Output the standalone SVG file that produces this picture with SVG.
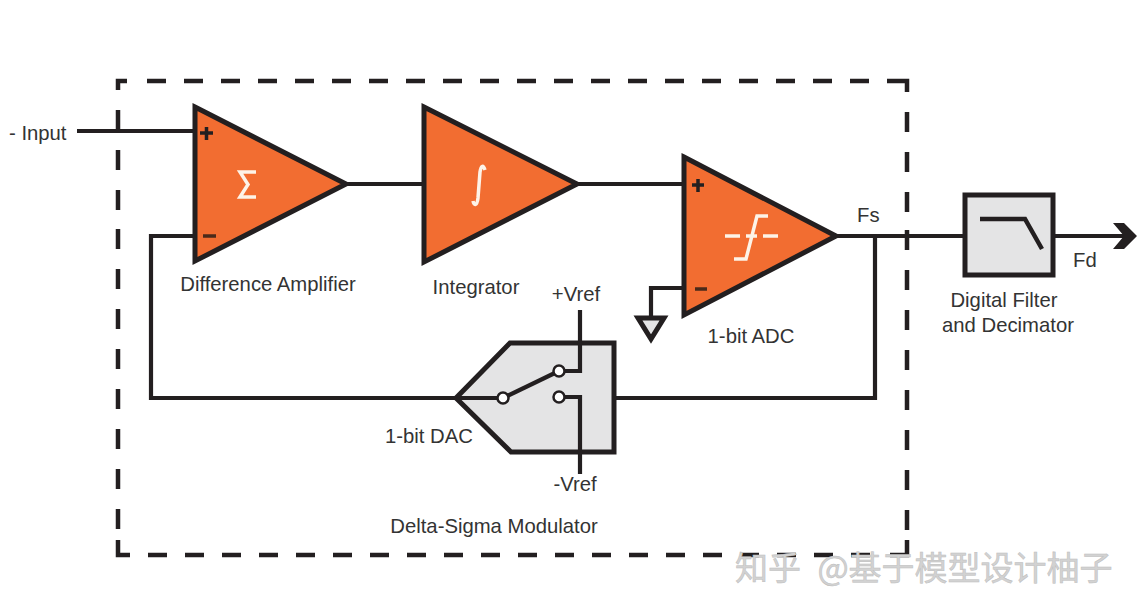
<svg xmlns="http://www.w3.org/2000/svg" width="1140" height="613" viewBox="0 0 1140 613">
<style>
.l{fill:none;stroke:#231f20;stroke-width:4.2;stroke-linejoin:miter}
.amp{fill:#f26d31;stroke:#231f20;stroke-width:5;stroke-linejoin:miter}
.gray{fill:#e4e4e5;stroke:#231f20;stroke-width:5}
.w{fill:none;stroke:#fdf3e8;stroke-width:3.5}
.s{fill:none;stroke:#231f20;stroke-width:3.5}
.t{font-family:"Liberation Sans",Arial,sans-serif;font-size:20.300px;fill:#333}
.m{text-anchor:middle}
.pin{fill:none;stroke:#231f20;stroke-width:3.5}
.minus{fill:none;stroke:#4a2a1a;stroke-width:3.5}
.c{fill:#fff;stroke:#231f20;stroke-width:2.500}
</style>
<rect width="1140" height="613" fill="#fff"/>
<g id="boundary" fill="none" stroke="#231f20" stroke-width="4.5">
<path d="M118 90V81H127M147 81H166M184 81H203M221 81H240M258 81H277M295 81H314M332 81H351M369 81H388M406 81H425M443 81H462M480 81H499M517 81H536M554 81H573M591 81H610M628 81H647M665 81H684M702 81H721M739 81H758M776 81H795M813 81H832M850 81H869M887 81H907V92"/>
<path d="M907 112V132M907 152V172M907 192V212M907 230V250M907 270V290M907 310V330M907 350V370M907 390V410M907 430V450M907 470V490M907 510V530M907 540V555H890M870 555H851M833 555H814M796 555H777M759 555H740M722 555H703M685 555H666M648 555H629M611 555H592M574 555H555M537 555H518M500 555H481M463 555H444M426 555H407M389 555H370M352 555H333M315 555H296M278 555H259M241 555H222M204 555H185M167 555H148M130 555H118V540"/>
<path d="M118 110V130M118 150V170M118 190V210M118 229V249M118 269V289M118 309V329M118 349V369M118 389V409M118 429V449M118 469V489M118 509V529"/>
</g>
<g id="connectors">
<path class="l" d="M77 131H195"/>
<path class="l" d="M195 236H151V398H456"/>
<path class="l" d="M346 184H424"/>
<path class="l" d="M577 184H684"/>
<path class="l" d="M684 288H651V318"/>
<path class="l" d="M835 236H965"/>
<path class="l" d="M875 236V398H614"/>
<path class="l" d="M1052 236H1130"/>
<path d="M1113 223H1124L1137 236L1124 249H1113L1124 236Z" fill="#231f20"/>
</g>
<g id="difference-amplifier">
<path class="amp" d="M195 107L346 184L195 261Z"/>
<path class="pin" d="M200 133H213M206.500 127V140"/>
<path class="minus" d="M203 236H216"/>
<path class="w" d="M256 172H240L248 184.500L240 197H256"/>
<text class="t m" x="268" y="291">Difference Amplifier</text>
</g>
<g id="integrator">
<path class="amp" d="M424 107L577 184L424 262Z"/>
<path class="w" d="M485 170C483 164 481 166 480 172L478 198C477 206 474 206 473 201"/>
<text class="t m" x="476" y="294">Integrator</text>
</g>
<g id="adc">
<path class="amp" d="M684 157L836 236L684 315Z"/>
<path class="pin" d="M692 185H704M698 179V192"/>
<path class="minus" d="M695 289H707"/>
<path class="w" d="M725 236H740M746 236H757M763 236H778"/>
<path class="w" d="M768 216H757L746 259H734"/>
<text class="t m" x="751" y="343">1-bit ADC</text>
</g>
<g id="ground">
<path d="M638 318H664L651 339Z" fill="#e4e4e5" stroke="#231f20" stroke-width="5"/>
</g>
<g id="dac">
<path class="gray" d="M456 398L510 343H614V452H511Z"/>
<path class="l" d="M456 398H503"/>
<path class="l" d="M503 398L559 371"/>
<path class="l" d="M559 371H580V310"/>
<path class="l" d="M559 397H580V474"/>
<circle class="c" cx="503" cy="398" r="5.500"/>
<circle class="c" cx="559" cy="371" r="5.500"/>
<circle class="c" cx="559" cy="397" r="5.500"/>
<text class="t m" x="576" y="301">+Vref</text>
<text class="t m" x="575" y="491">-Vref</text>
<text class="t m" x="429" y="443">1-bit DAC</text>
</g>
<g id="digital-filter">
<rect class="gray" x="965" y="195" width="88" height="80"/>
<path class="s" style="stroke-width:4.500" d="M980 219H1025L1042 249"/>
<text class="t m" x="1004" y="307">Digital Filter</text>
<text class="t m" x="1008" y="332">and Decimator</text>
</g>
<g id="labels">
<text class="t" x="9" y="140">- Input</text>
<text class="t" x="857" y="222">Fs</text>
<text class="t" x="1073" y="267">Fd</text>
<text class="t m" x="494" y="533">Delta-Sigma Modulator</text>
</g>
<g id="watermark">
<text x="735" y="580" font-family="'Noto Sans CJK SC','Liberation Sans',sans-serif" font-size="33" fill="#d2d2d2" stroke="#bdbdbd" stroke-width="0.500" word-spacing="9" xml:space="preserve">知乎 @基于模型设计柚子</text>
</g>
</svg>
